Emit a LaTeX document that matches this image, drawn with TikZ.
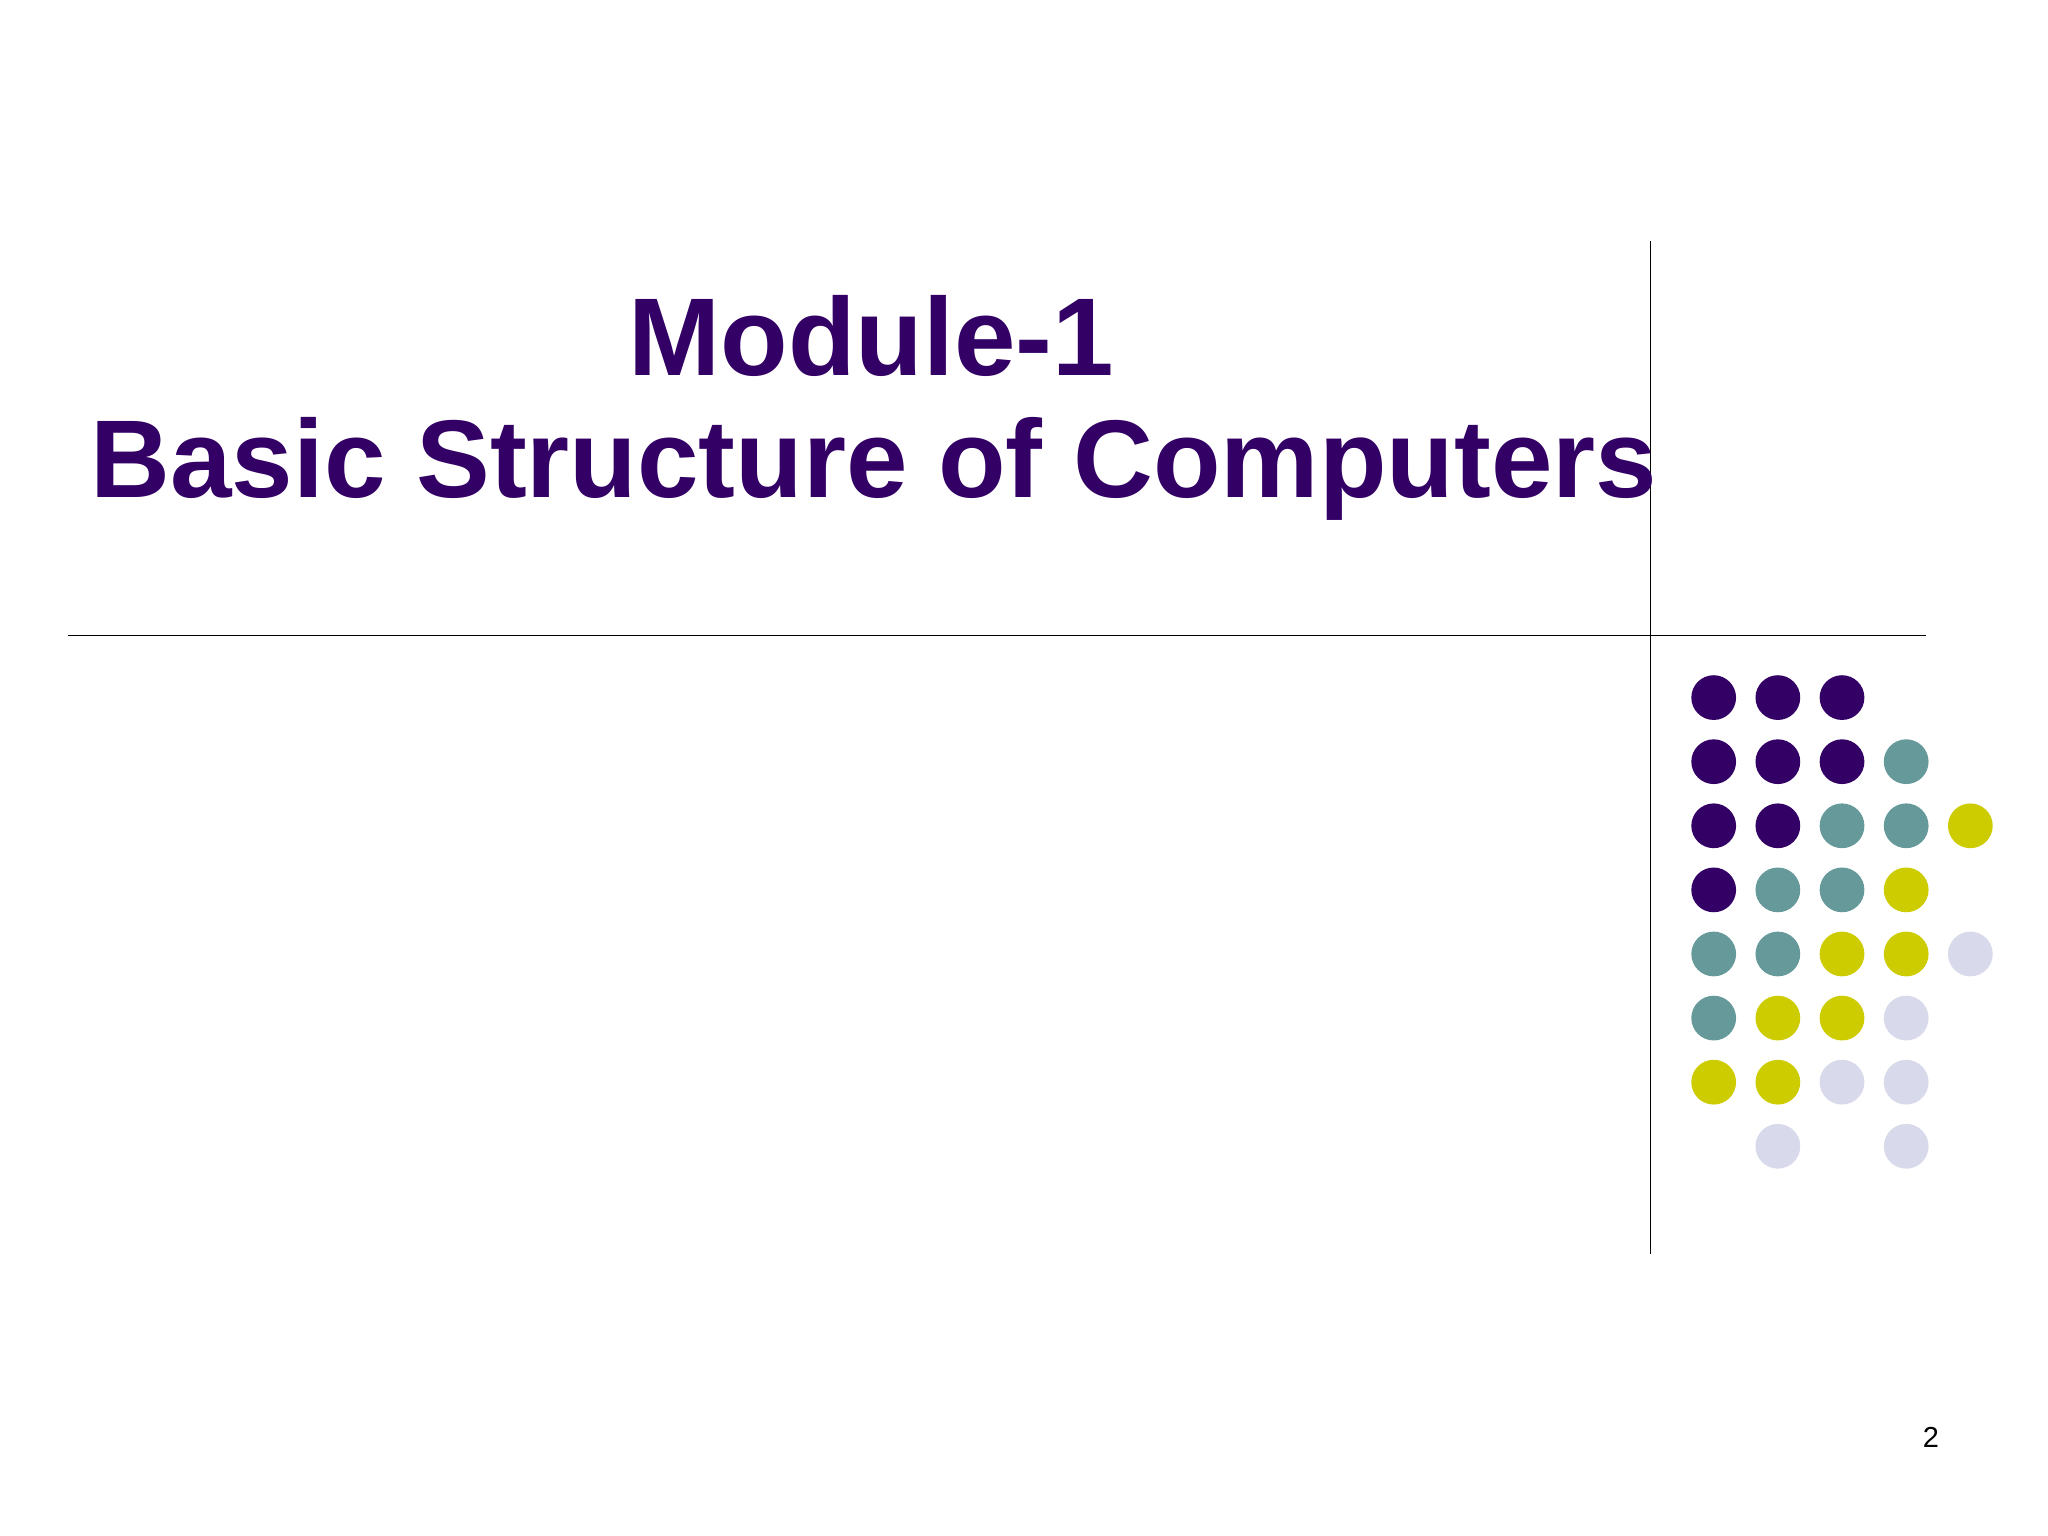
\documentclass[tikz,border=0pt]{standalone}
\usepackage{fontspec}
\setmainfont{Liberation Sans}
\definecolor{dP}{HTML}{330066}
\definecolor{dT}{HTML}{669999}
\definecolor{dY}{HTML}{CCCC00}
\definecolor{dL}{HTML}{D9D9EC}
\begin{document}
\begin{tikzpicture}[x=1pt,y=-1pt,dot/.style={circle,inner sep=0pt,minimum size=34pt}]
\useasboundingbox (0,0) rectangle (1556,1167);
\fill[white] (0,0) rectangle (1556,1167);
\coordinate (vt) at (1254,183); \coordinate (vb) at (1254,953);
\coordinate (hl) at (52,483); \coordinate (hr) at (1463,483);
\draw[line width=1.2pt] (vt) -- (vb);
\draw[line width=1pt] (hl) -- (hr);
\node[anchor=base,text=dP,font=\bfseries\fontsize{84}{93}\selectfont] (t1) at (662,285) {Module-1};
\node[anchor=base,text=dP,font=\bfseries\fontsize{84}{93}\selectfont] (t2) at (664,378) {Basic Structure of Computers};
\node[anchor=base,font=\fontsize{22}{26}\selectfont] (pn) at (1467,1100) {2};
\foreach \row [count=\r] in {{P,P,P,N,N},{P,P,P,T,N},{P,P,T,T,Y},{P,T,T,Y,N},{T,T,Y,Y,L},{T,Y,Y,L,N},{Y,Y,L,L,N},{N,L,N,L,N}}{
  \foreach \c [count=\k] in \row {
    \if N\c\else
      \node[dot,fill=d\c] (d\r\k) at ({1302+48.75*(\k-1)},{530+48.7*(\r-1)}) {};
    \fi
  }
}
\end{tikzpicture}
\end{document}
